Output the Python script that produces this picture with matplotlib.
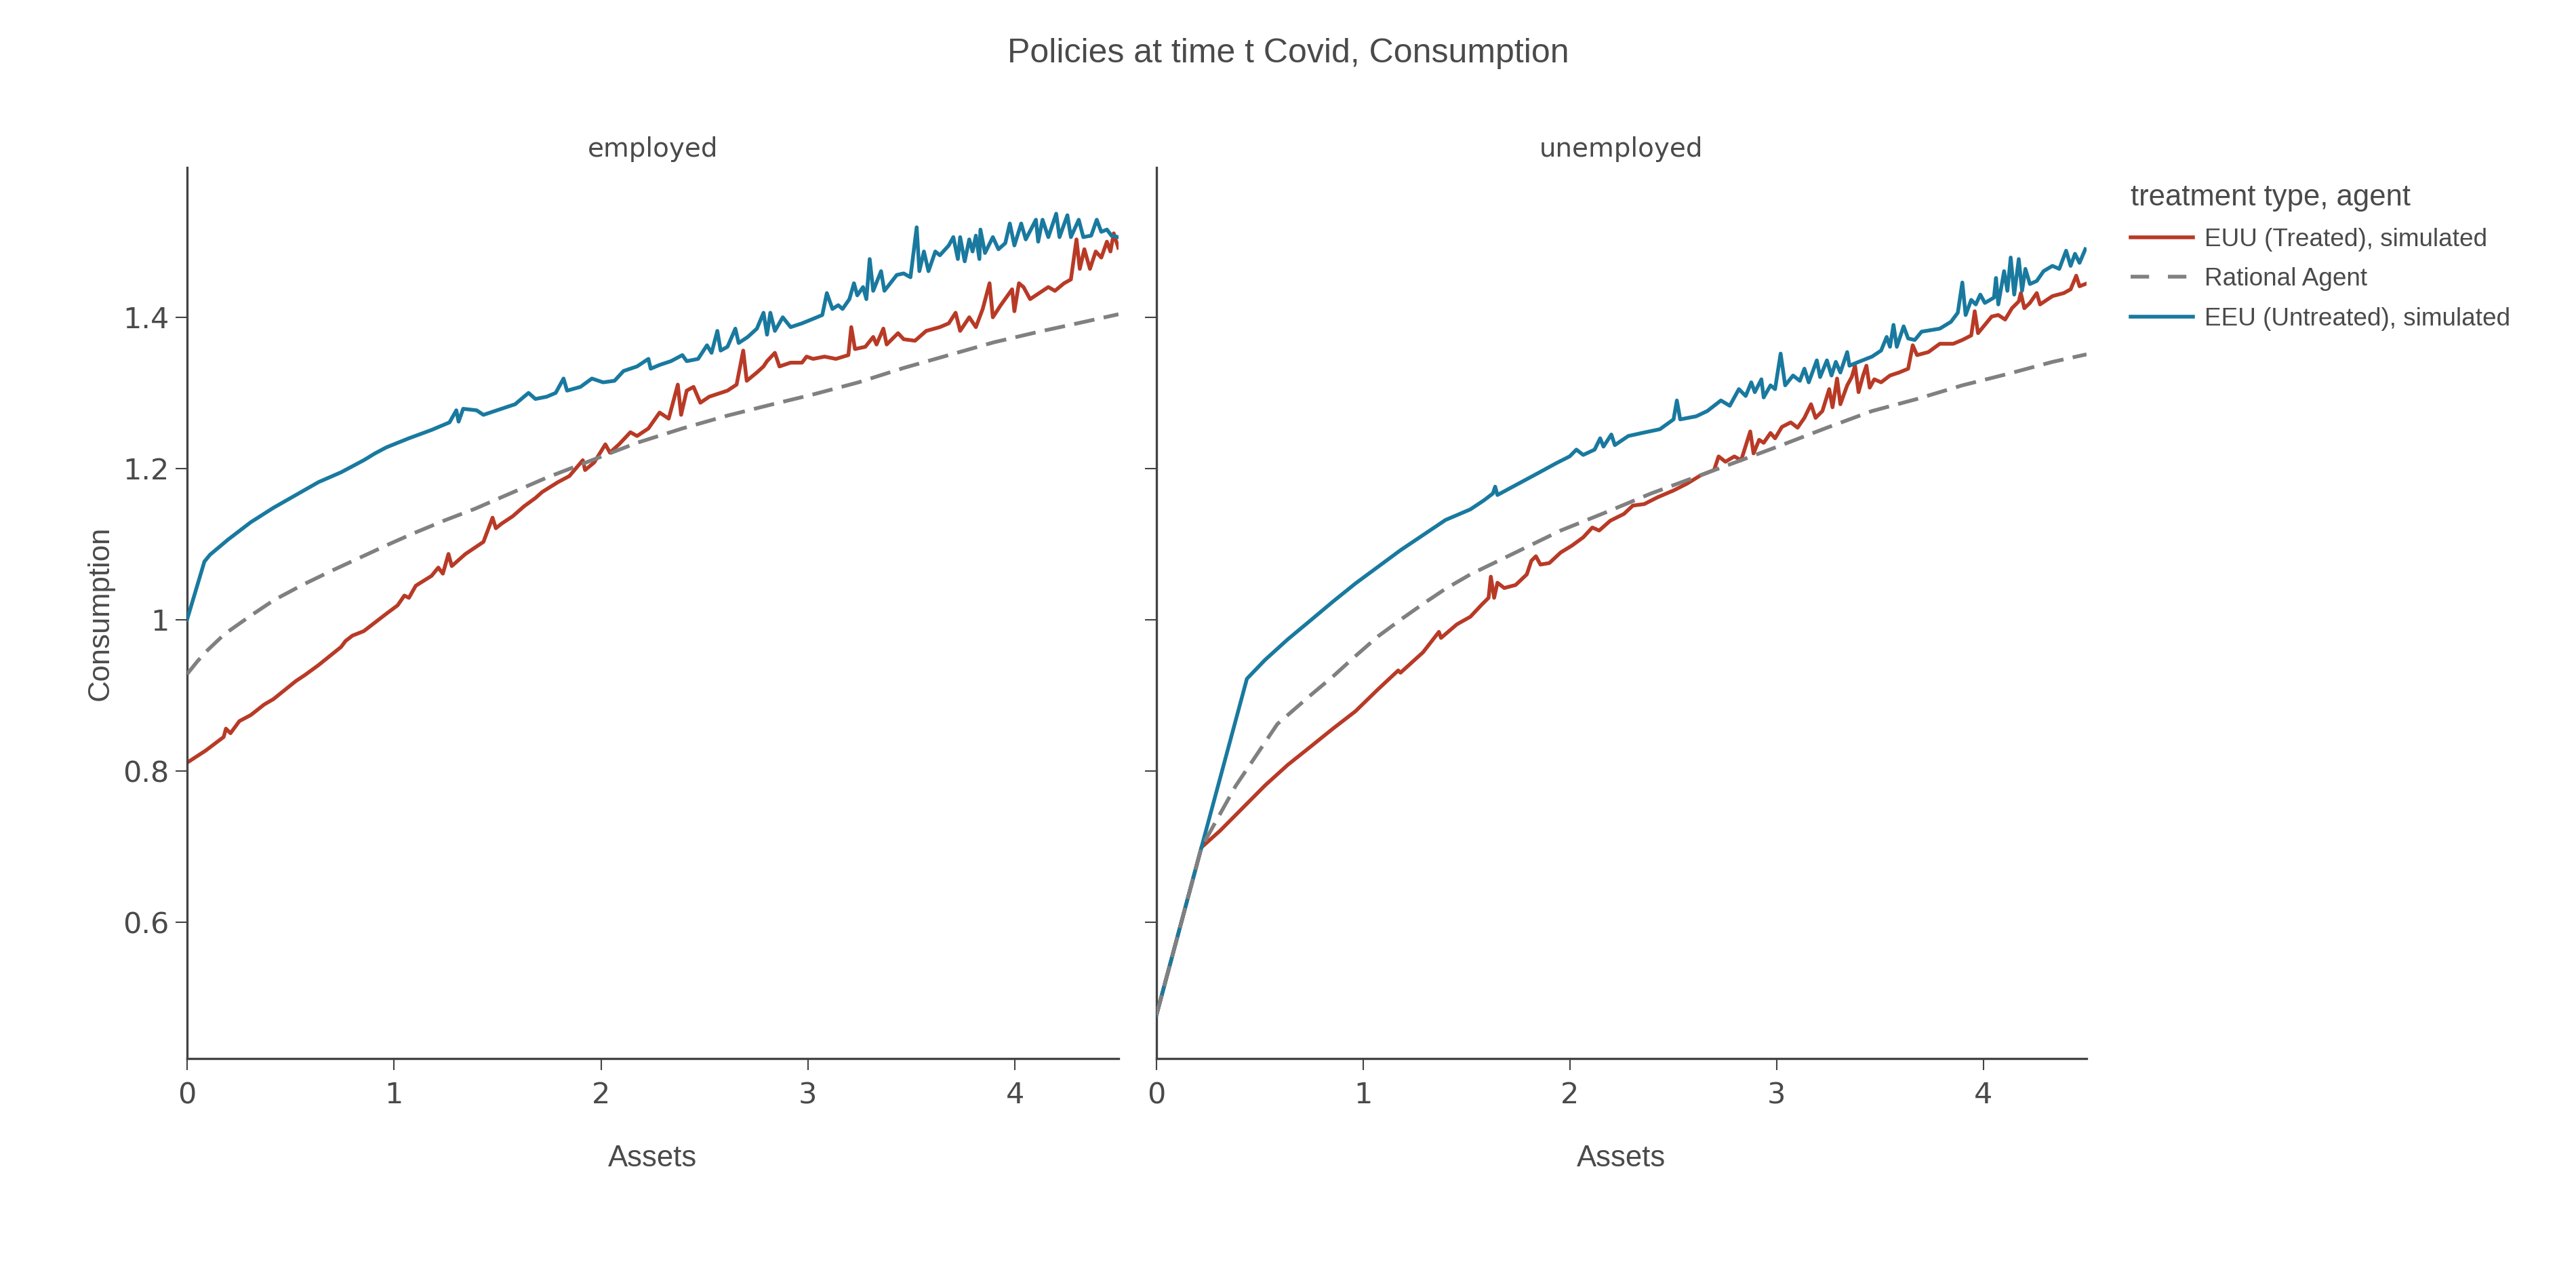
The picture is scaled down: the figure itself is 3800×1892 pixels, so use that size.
import numpy as np
import matplotlib.pyplot as plt
from matplotlib.lines import Line2D

# employed panel: (assets, consumption)
emp_euu = [(0.0, 0.811), (0.09, 0.827), (0.177, 0.845), (0.188, 0.856), (0.21, 0.850), (0.253, 0.866),
           (0.308, 0.874), (0.373, 0.888), (0.417, 0.895), (0.526, 0.919), (0.57, 0.927), (0.635, 0.940),
           (0.744, 0.964), (0.766, 0.972), (0.799, 0.979), (0.854, 0.985), (0.963, 1.008), (1.017, 1.019),
           (1.05, 1.032), (1.072, 1.029), (1.105, 1.045), (1.181, 1.058), (1.214, 1.069), (1.236, 1.061),
           (1.263, 1.087), (1.279, 1.071), (1.345, 1.087), (1.432, 1.103), (1.476, 1.135), (1.492, 1.121),
           (1.519, 1.127), (1.574, 1.137), (1.628, 1.150), (1.683, 1.161), (1.716, 1.169), (1.792, 1.182),
           (1.847, 1.190), (1.912, 1.211), (1.923, 1.198), (1.967, 1.208), (2.021, 1.232), (2.043, 1.221),
           (2.087, 1.232), (2.142, 1.248), (2.174, 1.243), (2.229, 1.253), (2.283, 1.274), (2.327, 1.266),
           (2.371, 1.311), (2.387, 1.271), (2.414, 1.303), (2.447, 1.308), (2.48, 1.287), (2.523, 1.295),
           (2.556, 1.298), (2.611, 1.303), (2.655, 1.311), (2.687, 1.356), (2.704, 1.316), (2.753, 1.327),
           (2.785, 1.335), (2.802, 1.342), (2.84, 1.353), (2.862, 1.335), (2.916, 1.340), (2.971, 1.340),
           (2.993, 1.348), (3.025, 1.345), (3.08, 1.348), (3.135, 1.345), (3.195, 1.350), (3.209, 1.387),
           (3.227, 1.358), (3.277, 1.361), (3.315, 1.374), (3.331, 1.364), (3.364, 1.385), (3.38, 1.364),
           (3.435, 1.379), (3.462, 1.371), (3.517, 1.369), (3.571, 1.382), (3.637, 1.387), (3.68, 1.392),
           (3.713, 1.406), (3.735, 1.382), (3.779, 1.400), (3.811, 1.387), (3.844, 1.411), (3.877, 1.445),
           (3.893, 1.400), (3.931, 1.416), (3.986, 1.437), (3.997, 1.408), (4.019, 1.445), (4.041, 1.440),
           (4.073, 1.424), (4.117, 1.432), (4.161, 1.440), (4.193, 1.435), (4.237, 1.445), (4.27, 1.450),
           (4.297, 1.503), (4.313, 1.464), (4.335, 1.490), (4.362, 1.464), (4.39, 1.487), (4.417, 1.479),
           (4.444, 1.500), (4.461, 1.487), (4.477, 1.511), (4.499, 1.492)]

emp_eeu = [(0.0, 1.0), (0.084, 1.077), (0.111, 1.086), (0.198, 1.106), (0.308, 1.129), (0.417, 1.148),
           (0.526, 1.165), (0.635, 1.182), (0.744, 1.195), (0.854, 1.211), (0.908, 1.220), (0.963, 1.228),
           (1.072, 1.240), (1.181, 1.251), (1.268, 1.261), (1.301, 1.277), (1.312, 1.262), (1.334, 1.279),
           (1.399, 1.277), (1.432, 1.271), (1.519, 1.279), (1.585, 1.285), (1.628, 1.295), (1.65, 1.300),
           (1.683, 1.292), (1.738, 1.295), (1.781, 1.300), (1.819, 1.319), (1.836, 1.303), (1.901, 1.308),
           (1.956, 1.319), (2.01, 1.314), (2.065, 1.316), (2.109, 1.329), (2.174, 1.335), (2.229, 1.345),
           (2.24, 1.332), (2.283, 1.337), (2.338, 1.342), (2.393, 1.350), (2.414, 1.342), (2.469, 1.345),
           (2.512, 1.363), (2.534, 1.353), (2.562, 1.382), (2.578, 1.356), (2.611, 1.361), (2.649, 1.385),
           (2.665, 1.366), (2.709, 1.374), (2.753, 1.385), (2.785, 1.406), (2.802, 1.377), (2.818, 1.406),
           (2.84, 1.382), (2.878, 1.400), (2.916, 1.387), (2.971, 1.392), (3.025, 1.398), (3.069, 1.403),
           (3.091, 1.432), (3.118, 1.411), (3.146, 1.416), (3.167, 1.411), (3.2, 1.424), (3.222, 1.445),
           (3.238, 1.429), (3.266, 1.440), (3.282, 1.424), (3.298, 1.477), (3.315, 1.435), (3.353, 1.461),
           (3.369, 1.435), (3.429, 1.456), (3.462, 1.458), (3.495, 1.453), (3.525, 1.519), (3.538, 1.461),
           (3.56, 1.487), (3.582, 1.461), (3.615, 1.487), (3.637, 1.482), (3.68, 1.495), (3.702, 1.506),
           (3.724, 1.477), (3.735, 1.506), (3.757, 1.474), (3.779, 1.503), (3.795, 1.487), (3.811, 1.508),
           (3.828, 1.477), (3.833, 1.516), (3.855, 1.485), (3.893, 1.506), (3.92, 1.490), (3.953, 1.498),
           (3.975, 1.524), (3.997, 1.495), (4.03, 1.524), (4.052, 1.503), (4.101, 1.529), (4.112, 1.500),
           (4.133, 1.529), (4.161, 1.506), (4.199, 1.537), (4.215, 1.506), (4.253, 1.535), (4.27, 1.506),
           (4.308, 1.529), (4.33, 1.506), (4.368, 1.508), (4.395, 1.529), (4.417, 1.513), (4.444, 1.516),
           (4.466, 1.508), (4.499, 1.506)]

emp_rational = [(0.0, 0.928), (0.05, 0.945), (0.1, 0.960), (0.181, 0.981), (0.3, 1.004), (0.42, 1.026),
                (0.557, 1.046), (0.7, 1.065), (0.85, 1.084), (0.976, 1.100), (1.1, 1.115), (1.25, 1.132),
                (1.393, 1.147), (1.519, 1.162), (1.738, 1.188), (1.956, 1.211), (2.174, 1.234), (2.393, 1.253),
                (2.611, 1.270), (2.829, 1.285), (3.025, 1.298), (3.244, 1.314), (3.462, 1.333), (3.68, 1.350),
                (3.899, 1.367), (4.117, 1.381), (4.335, 1.394), (4.5, 1.404)]

# unemployed panel
unemp_euu = [(0.0, 0.477), (0.218, 0.699), (0.308, 0.721), (0.417, 0.751), (0.526, 0.781), (0.635, 0.808),
             (0.745, 0.832), (0.854, 0.856), (0.963, 0.879), (1.072, 0.908), (1.17, 0.933), (1.181, 0.930),
             (1.29, 0.957), (1.367, 0.984), (1.377, 0.976), (1.454, 0.994), (1.519, 1.004), (1.574, 1.020),
             (1.607, 1.029), (1.618, 1.057), (1.634, 1.029), (1.65, 1.049), (1.683, 1.042), (1.738, 1.046),
             (1.792, 1.060), (1.814, 1.078), (1.836, 1.084), (1.858, 1.073), (1.901, 1.075), (1.956, 1.089),
             (2.01, 1.098), (2.065, 1.109), (2.109, 1.122), (2.142, 1.118), (2.196, 1.131), (2.262, 1.140),
             (2.305, 1.151), (2.36, 1.153), (2.425, 1.162), (2.502, 1.171), (2.567, 1.180), (2.633, 1.191),
             (2.698, 1.198), (2.72, 1.216), (2.753, 1.209), (2.796, 1.216), (2.829, 1.211), (2.873, 1.249),
             (2.889, 1.220), (2.916, 1.238), (2.938, 1.234), (2.971, 1.247), (2.993, 1.240), (3.026, 1.255),
             (3.069, 1.261), (3.102, 1.254), (3.135, 1.267), (3.167, 1.285), (3.189, 1.267), (3.222, 1.276),
             (3.255, 1.305), (3.271, 1.281), (3.293, 1.319), (3.309, 1.285), (3.342, 1.310), (3.364, 1.321),
             (3.38, 1.336), (3.397, 1.301), (3.419, 1.323), (3.435, 1.336), (3.451, 1.307), (3.473, 1.318),
             (3.506, 1.314), (3.549, 1.323), (3.593, 1.327), (3.637, 1.332), (3.659, 1.363), (3.68, 1.350),
             (3.735, 1.354), (3.79, 1.365), (3.855, 1.365), (3.899, 1.370), (3.942, 1.376), (3.959, 1.408),
             (3.975, 1.379), (4.008, 1.390), (4.041, 1.401), (4.073, 1.403), (4.106, 1.397), (4.139, 1.412),
             (4.172, 1.421), (4.182, 1.432), (4.199, 1.412), (4.226, 1.419), (4.259, 1.432), (4.275, 1.417),
             (4.335, 1.428), (4.39, 1.432), (4.423, 1.437), (4.45, 1.455), (4.466, 1.441), (4.494, 1.444)]

unemp_eeu = [(0.0, 0.477), (0.218, 0.699), (0.438, 0.922), (0.526, 0.947), (0.635, 0.974), (0.745, 0.999),
             (0.854, 1.024), (0.963, 1.048), (1.072, 1.070), (1.181, 1.092), (1.29, 1.112), (1.399, 1.132),
             (1.519, 1.146), (1.585, 1.158), (1.628, 1.167), (1.639, 1.176), (1.65, 1.165), (1.738, 1.178),
             (1.847, 1.194), (1.934, 1.207), (1.999, 1.216), (2.032, 1.225), (2.065, 1.218), (2.12, 1.225),
             (2.147, 1.240), (2.163, 1.229), (2.201, 1.245), (2.218, 1.231), (2.283, 1.243), (2.349, 1.247),
             (2.436, 1.252), (2.502, 1.265), (2.518, 1.290), (2.534, 1.265), (2.611, 1.269), (2.665, 1.276),
             (2.731, 1.290), (2.774, 1.283), (2.818, 1.305), (2.851, 1.296), (2.878, 1.314), (2.895, 1.301),
             (2.927, 1.318), (2.938, 1.294), (2.971, 1.310), (2.993, 1.305), (3.02, 1.352), (3.042, 1.310),
             (3.08, 1.323), (3.113, 1.316), (3.135, 1.332), (3.156, 1.314), (3.195, 1.343), (3.211, 1.321),
             (3.244, 1.343), (3.266, 1.323), (3.287, 1.341), (3.309, 1.327), (3.342, 1.354), (3.353, 1.336),
             (3.397, 1.341), (3.462, 1.348), (3.506, 1.356), (3.533, 1.374), (3.549, 1.361), (3.566, 1.390),
             (3.582, 1.361), (3.615, 1.388), (3.637, 1.372), (3.669, 1.370), (3.702, 1.381), (3.79, 1.385),
             (3.844, 1.394), (3.877, 1.406), (3.899, 1.446), (3.915, 1.403), (3.942, 1.423), (3.964, 1.417),
             (3.986, 1.430), (4.008, 1.419), (4.052, 1.426), (4.062, 1.452), (4.073, 1.417), (4.101, 1.461),
             (4.117, 1.435), (4.133, 1.479), (4.15, 1.430), (4.172, 1.477), (4.188, 1.435), (4.204, 1.464),
             (4.226, 1.444), (4.259, 1.448), (4.292, 1.461), (4.335, 1.468), (4.368, 1.464), (4.401, 1.488),
             (4.423, 1.468), (4.444, 1.484), (4.466, 1.472), (4.494, 1.490)]

unemp_rational = [(0.0, 0.477), (0.218, 0.699), (0.383, 0.780), (0.585, 0.862), (0.745, 0.900), (0.854, 0.925),
                  (0.963, 0.952), (1.072, 0.978), (1.181, 1.000), (1.29, 1.021), (1.399, 1.041), (1.519, 1.060),
                  (1.738, 1.089), (1.956, 1.118), (2.174, 1.142), (2.393, 1.167), (2.611, 1.189), (2.829, 1.211),
                  (3.025, 1.231), (3.244, 1.254), (3.462, 1.276), (3.68, 1.292), (3.899, 1.310), (4.117, 1.325),
                  (4.335, 1.341), (4.5, 1.351)]

panels = ['employed', 'unemployed']
series_labels = ['EUU (Treated), simulated', 'Rational Agent', 'EEU (Untreated), simulated']
x_ticks = [0, 1, 2, 3, 4]
y_ticks = [0.6, 0.8, 1.0, 1.2, 1.4]

red = '#b83a26'
blue = '#19799f'
grey = '#808080'
text_col = '#4a4a4a'
axis_col = '#444444'
lw = 2.0
plot_dash = (5.5, 2.5)
legend_dash = (4.9, 5.0)
arial = 'Liberation Sans'

fig = plt.figure(figsize=(19, 9.46), dpi=200)
ax_l = fig.add_axes([0.0726, 0.1749, 0.3616, 0.6945])
ax_r = fig.add_axes([0.4489, 0.1749, 0.3611, 0.6945], sharey=ax_l)

data = {
    'employed': (emp_euu, emp_rational, emp_eeu),
    'unemployed': (unemp_euu, unemp_rational, unemp_eeu),
}

for ax, name in zip([ax_l, ax_r], panels):
    euu, rat, eeu = [np.array(s) for s in data[name]]
    ax.plot(euu[:, 0], euu[:, 1], color=red, lw=lw, zorder=2, solid_joinstyle='round')
    ax.plot(eeu[:, 0], eeu[:, 1], color=blue, lw=lw, zorder=3, solid_joinstyle='round')
    ax.plot(rat[:, 0], rat[:, 1], color=grey, lw=lw, dashes=plot_dash, zorder=4)

    ax.set_xlim(0, 4.5)
    ax.set_ylim(0.4197, 1.598)
    ax.set_xticks(x_ticks)
    ax.set_xticklabels([str(v) for v in x_ticks])
    ax.set_yticks(y_ticks)
    ax.set_yticklabels([f'{v:g}' for v in y_ticks])
    for s in ['top', 'right']:
        ax.spines[s].set_visible(False)
    for s in ['left', 'bottom']:
        ax.spines[s].set_color(axis_col)
        ax.spines[s].set_linewidth(1.2)
    ax.tick_params(axis='both', direction='out', length=6, width=0.75, color=axis_col,
                   labelcolor=text_col, labelsize=15.5)
    ax.tick_params(axis='x', pad=6)
    ax.tick_params(axis='y', pad=3.5)
    ax.set_title(name, fontsize=14, color=text_col, pad=5.8)
    ax.set_xlabel('Assets', fontsize=15.7, family=arial, color=text_col)
    ax.xaxis.set_label_coords(0.5, -0.121)
    ax.xaxis.label.set_va('baseline')

ax_r.tick_params(axis='y', labelleft=False)
ax_l.set_ylabel('Consumption', fontsize=15.7, family=arial, color=text_col)
ax_l.yaxis.set_label_coords(-0.0931, 0.5)
ax_l.yaxis.label.set_va('center')

fig.text(0.5, 1 - 92 / 1892, 'Policies at time t Covid, Consumption', ha='center', va='baseline',
         fontsize=18, family=arial, color=text_col)

handles = [Line2D([], [], color=red, lw=lw),
           Line2D([], [], color=grey, lw=lw, dashes=legend_dash),
           Line2D([], [], color=blue, lw=lw)]
leg = fig.legend(handles, series_labels, loc='upper left', bbox_to_anchor=(3143 / 3800, 1 - 271 / 1892),
                 frameon=False, prop={'family': arial, 'size': 13.3},
                 title='treatment type, agent', title_fontproperties={'family': arial, 'size': 15.7},
                 alignment='left', handlelength=2.5, handletextpad=0.46, labelspacing=0.64,
                 borderpad=0, borderaxespad=0)
for t in leg.get_texts():
    t.set_color(text_col)
leg.get_title().set_color(text_col)

fig.savefig('out.png', dpi=200, facecolor='white')
